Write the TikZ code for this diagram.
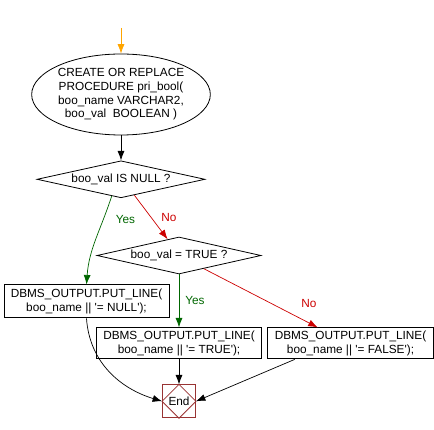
\documentclass[tikz,border=0pt]{standalone}
\usepackage{fontspec}
\setmainfont{Liberation Sans}
\usetikzlibrary{positioning,shapes.geometric,arrows.meta}
\definecolor{yesgreen}{RGB}{0,102,0}
\definecolor{nored}{RGB}{204,0,0}
\definecolor{endred}{RGB}{153,51,51}
\definecolor{startorange}{RGB}{255,165,0}
\begin{document}
\begin{tikzpicture} [x=1pt, y=1pt,
            font=\fontsize{11.8}{13.7}\selectfont,
            proc/.style={ellipse, draw, line width=0.8pt, minimum width=161pt, minimum height=81pt, inner sep=0pt, align=center},
            cond/.style={diamond, draw, line width=0.8pt, aspect=4.5, minimum width=168pt, minimum height=37pt, inner sep=0pt},
            outbox/.style={rectangle, draw, line width=1pt, minimum width=165pt, minimum height=31pt, inner sep=0pt, align=center},
            endbox/.style={rectangle, draw=endred, line width=0.8pt, minimum size=33pt, inner sep=0pt},
            flow/.style={line width=0.7pt, -{Latex[length=9.5pt,width=7pt]}},
            yesline/.style={flow, yesgreen},
            noline/.style={flow, nored},
            lbl/.style={inner sep=0pt}]
        \useasboundingbox (0,0) rectangle (434,-430);
        \coordinate (top) at (121,-28);
        \node[proc](proc) at (121,-94.5){CREATE OR REPLACE\\PROCEDURE pri\_bool(\\boo\_name VARCHAR2,\\boo\_val\ \ BOOLEAN )};
        \node[cond](isnull)[below=25pt of proc]{boo\_val IS NULL ?};
        \node[cond, minimum width=164pt](istrue) at (179,-255.5){boo\_val = TRUE ?};
        \node[outbox, minimum height=33pt](nullbox) at (86.5,-301.5){DBMS\_OUTPUT.PUT\_LINE(\\boo\_name || \textquotesingle= NULL\textquotesingle);};
        \node[outbox](truebox)[below=53pt of istrue]{DBMS\_OUTPUT.PUT\_LINE(\\boo\_name || \textquotesingle= TRUE\textquotesingle);};
        \node[outbox, minimum width=166pt](falsebox)[right=5pt of truebox]{DBMS\_OUTPUT.PUT\_LINE(\\boo\_name || \textquotesingle= FALSE\textquotesingle);};
        \node[endbox](fin)[below=25pt of truebox]{End};
        \draw[endred, line width=0.8pt] (fin.north) -- (fin.east) -- (fin.south) -- (fin.west) -- cycle;
        \draw[flow, startorange] (top) -- (proc.north);
        \draw[flow] (proc.south) -- (isnull.north);
        \draw[yesline] (isnull.-119) to[out=-108, in=86] node[lbl, pos=0.25, right=12pt, text=yesgreen]{Yes} (nullbox.north);
        \draw[noline] (isnull.-50) -- node[lbl, pos=0.5, right=10pt, text=nored]{No} (istrue.125);
        \draw[yesline] (istrue.south) -- node[lbl, pos=0.5, right=6pt, text=yesgreen]{Yes} (truebox.north);
        \draw[noline] (istrue.-28) -- node[lbl, pos=0.8, above right=8pt and 6pt, text=nored]{No} (falsebox.154);
        \draw[flow] (nullbox.south) to[out=-86, in=163] (fin.west);
        \draw[flow] (truebox.south) -- (fin.north);
        \draw[flow] (falsebox.-164) -- (fin.east);
    \end{tikzpicture}
\end{document}
